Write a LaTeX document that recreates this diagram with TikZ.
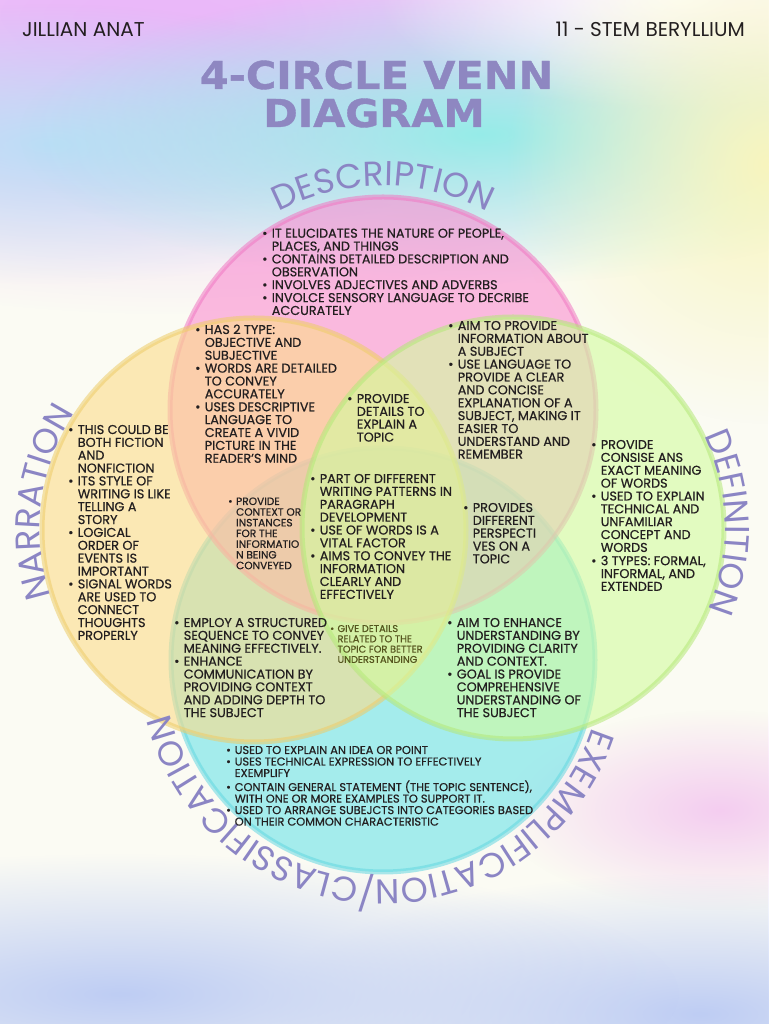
\documentclass[tikz,border=0pt]{standalone}
\usepackage{fontspec}
\usetikzlibrary{decorations.text,fadings}

\newfontfamily\notefont[FakeBold=0.6]{Poppins}
\newfontfamily\labelfont{Poppins}
\newfontfamily\titlefont[FakeStretch=1.08,FakeBold=1]{DejaVu Sans}
\newfontfamily\headfont{Poppins}

\definecolor{bgcream}{RGB}{251,251,243}
\definecolor{inkgray}{RGB}{35,31,32}
\definecolor{olivegray}{RGB}{85,85,30}
\definecolor{labelpurple}{RGB}{139,133,196}
\definecolor{titlepurple}{RGB}{142,135,193}
\definecolor{pinkfill}{RGB}{250,142,209}
\definecolor{pinkline}{RGB}{240,120,195}
\definecolor{yellowfill}{RGB}{252,220,138}
\definecolor{yellowline}{RGB}{238,204,104}
\definecolor{greenfill}{RGB}{210,252,159}
\definecolor{greenline}{RGB}{180,232,120}
\definecolor{cyanfill}{RGB}{107,227,232}
\definecolor{cyanline}{RGB}{100,215,225}
\definecolor{hazepink}{RGB}{234,184,250}
\definecolor{hazecyan}{RGB}{150,236,232}
\definecolor{hazesky}{RGB}{188,222,246}
\definecolor{hazeblue}{RGB}{190,205,244}
\definecolor{hazeyellow}{RGB}{248,245,190}
\definecolor{hazerose}{RGB}{244,205,240}

\tikzfading[name=softspot, inner color=transparent!0, outer color=transparent!100]

\newcommand{\bul}{\makebox[0.75em][l]{\textbullet}}
\newcommand{\labelsize}{\labelfont\fontsize{34.5}{34.5}\selectfont}

\begin{document}
\begin{tikzpicture}[x=1pt,y=1pt,
    setline/.style={line width=5pt, fill opacity=0.6, draw opacity=0.55},
    notes/.style={anchor=base west, inner sep=0pt, text=inkgray,
      font=\notefont\fontsize{12.8}{12.8}\selectfont},
    smallnotes/.style={notes, font=\notefont\fontsize{10.6}{10.7}\selectfont},
    tinynotes/.style={notes, text=olivegray, font=\notefont\fontsize{9.8}{10.3}\selectfont},
    widenotes/.style={notes, font=\notefont\fontsize{11.4}{11.5}\selectfont},
    circlelabel/.style={decorate, decoration={text along path, text align=center, text color=labelpurple}},
    headtext/.style={inner sep=0pt, text=inkgray, font=\headfont\fontsize{20}{20}\selectfont},
    titletext/.style={anchor=base, inner sep=0pt, text=titlepurple, font=\titlefont\bfseries\fontsize{38.4}{38.4}\selectfont}]
  \useasboundingbox (0,0) rectangle (768,1024);

  % Pastel background
  \fill[bgcream] (0,0) rectangle (768,1024);
  \fill[hazepink, path fading=softspot] (180,1000) ellipse [x radius=720pt, y radius=290pt];
  \fill[hazepink, path fading=softspot] (130,1010) ellipse [x radius=520pt, y radius=200pt];
  \fill[hazesky, path fading=softspot] (50,880) ellipse [x radius=380pt, y radius=140pt];
  \fill[hazecyan, path fading=softspot] (480,890) ellipse [x radius=460pt, y radius=150pt];
  \fill[white, path fading=softspot] (680,1024) ellipse [x radius=300pt, y radius=110pt];
  \fill[hazeyellow, path fading=softspot] (768,860) ellipse [x radius=260pt, y radius=260pt];
  \fill[hazerose, path fading=softspot] (720,214) ellipse [x radius=220pt, y radius=100pt];
  \fill[hazeblue, path fading=softspot] (700,10) ellipse [x radius=440pt, y radius=140pt];
  \fill[hazeblue, path fading=softspot] (120,30) ellipse [x radius=560pt, y radius=140pt];

  % Circle centres
  \coordinate (descC) at (383,614);
  \coordinate (narrC) at (254,494);
  \coordinate (defC) at (513,496);
  \coordinate (exemC) at (383,364);

  % The four sets
  \path[setline, fill=cyanfill, draw=cyanline] (exemC) circle [radius=212pt];
  \path[setline, fill=pinkfill, draw=pinkline] (descC) circle [radius=213pt];
  \path[setline, fill=yellowfill, draw=yellowline] (narrC) circle [radius=212pt];
  \path[setline, fill=greenfill, draw=greenline] (defC) circle [radius=211pt];

  % Curved set names
  \path[circlelabel, decoration={text={|\labelsize|DESCRIPTION}}]
    ([shift={(130:224pt)}]descC) arc [start angle=130, end angle=50, radius=224pt];
  \path[circlelabel, decoration={text={|\labelsize|NARRATION}}]
    ([shift={(210:214pt)}]narrC) arc [start angle=210, end angle=135, radius=214pt];
  \path[circlelabel, decoration={text={|\labelsize|DEFINITION}}]
    ([shift={(40:212pt)}]defC) arc [start angle=40, end angle=-37, radius=212pt];
  \path[circlelabel, decoration={text={|\labelsize|EXEMPLIFICATION/CLASSIFICATION}}]
    ([shift={(0:220pt)}]exemC) arc [start angle=0, end angle=-184, radius=220pt];

  % Header and title
  \node[headtext, anchor=base west] (author) at (22,987) {JILLIAN ANAT};
  \node[headtext, anchor=base east] (section) at (745,987) {11 - STEM BERYLLIUM};
  \node[titletext] (titleA) at (376.5,935) {4-CIRCLE VENN};
  \node[titletext] (titleB) at (374,897) {DIAGRAM};

  % Description only
  \node[notes] (descnote) at (262,786.3) {\begin{tabular}[t]{@{}l@{}l@{}}
    \bul & IT ELUCIDATES THE NATURE OF PEOPLE,\\
         & PLACES, AND THINGS\\
    \bul & CONTAINS DETAILED DESCRIPTION AND\\
         & OBSERVATION\\
    \bul & INVOLVES ADJECTIVES AND ADVERBS\\
    \bul & INVOLCE SENSORY LANGUAGE TO DECRIBE\\
         & ACCURATELY
  \end{tabular}};

  % Description and narration
  \node[notes] (descnarrnote) at (195,690) {\begin{tabular}[t]{@{}l@{}l@{}}
    \bul & HAS 2 TYPE:\\
         & OBJECTIVE AND\\
         & SUBJECTIVE\\
    \bul & WORDS ARE DETAILED\\
         & TO CONVEY\\
         & ACCURATELY\\
    \bul & USES DESCRIPTIVE\\
         & LANGUAGE TO\\
         & CREATE A VIVID\\
         & PICTURE IN THE\\
         & READER’S MIND
  \end{tabular}};

  % Description and definition
  \node[notes] (descdefnote) at (448,694) {\begin{tabular}[t]{@{}l@{}l@{}}
    \bul & AIM TO PROVIDE\\
         & INFORMATION ABOUT\\
         & A SUBJECT\\
    \bul & USE LANGUAGE TO\\
         & PROVIDE A CLEAR\\
         & AND CONCISE\\
         & EXPLANATION OF A\\
         & SUBJECT, MAKING IT\\
         & EASIER TO\\
         & UNDERSTAND AND\\
         & REMEMBER
  \end{tabular}};

  % Description, narration and definition
  \node[notes] (topmidnote) at (347,621) {\begin{tabular}[t]{@{}l@{}l@{}}
    \bul & PROVIDE\\
         & DETAILS TO\\
         & EXPLAIN A\\
         & TOPIC
  \end{tabular}};

  % Narration only
  \node[notes] (narrnote) at (68,590) {\begin{tabular}[t]{@{}l@{}l@{}}
    \bul & THIS COULD BE\\
         & BOTH FICTION\\
         & AND\\
         & NONFICTION\\
    \bul & ITS STYLE OF\\
         & WRITING IS LIKE\\
         & TELLING A\\
         & STORY\\
    \bul & LOGICAL\\
         & ORDER OF\\
         & EVENTS IS\\
         & IMPORTANT\\
    \bul & SIGNAL WORDS\\
         & ARE USED TO\\
         & CONNECT\\
         & THOUGHTS\\
         & PROPERLY
  \end{tabular}};

  % Definition only
  \node[notes] (defnote) at (591,575) {\begin{tabular}[t]{@{}l@{}l@{}}
    \bul & PROVIDE\\
         & CONSISE ANS\\
         & EXACT MEANING\\
         & OF WORDS\\
    \bul & USED TO EXPLAIN\\
         & TECHNICAL AND\\
         & UNFAMILIAR\\
         & CONCEPT AND\\
         & WORDS\\
    \bul & 3 TYPES: FORMAL,\\
         & INFORMAL, AND\\
         & EXTENDED
  \end{tabular}};

  % Description, narration and exemplification
  \node[smallnotes] (leftmidnote) at (228,519) {\begin{tabular}[t]{@{}l@{}l@{}}
    \bul & PROVIDE\\
         & CONTEXT OR\\
         & INSTANCES\\
         & FOR THE\\
         & INFORMATIO\\
         & N BEING\\
         & CONVEYED
  \end{tabular}};

  % All four
  \node[notes] (centernote) at (310,541) {\begin{tabular}[t]{@{}l@{}l@{}}
    \bul & PART OF DIFFERENT\\
         & WRITING PATTERNS IN\\
         & PARAGRAPH\\
         & DEVELOPMENT\\
    \bul & USE OF WORDS IS A\\
         & VITAL FACTOR\\
    \bul & AIMS TO CONVEY THE\\
         & INFORMATION\\
         & CLEARLY AND\\
         & EFFECTIVELY
  \end{tabular}};

  % Description, definition and exemplification
  \node[notes] (rightmidnote) at (463,512) {\begin{tabular}[t]{@{}l@{}l@{}}
    \bul & PROVIDES\\
         & DIFFERENT\\
         & PERSPECTI\\
         & VES ON A\\
         & TOPIC
  \end{tabular}};

  % Narration and exemplification
  \node[notes] (narrexemnote) at (174,397) {\begin{tabular}[t]{@{}l@{}l@{}}
    \bul & EMPLOY A STRUCTURED\\
         & SEQUENCE TO CONVEY\\
         & MEANING EFFECTIVELY.\\
    \bul & ENHANCE\\
         & COMMUNICATION BY\\
         & PROVIDING CONTEXT\\
         & AND ADDING DEPTH TO\\
         & THE SUBJECT
  \end{tabular}};

  % Narration, definition and exemplification
  \node[tinynotes] (lowmidnote) at (330,392) {\begin{tabular}[t]{@{}l@{}l@{}}
    \bul & GIVE DETAILS\\
         & RELATED TO THE\\
         & TOPIC FOR BETTER\\
         & UNDERSTANDING
  \end{tabular}};

  % Definition and exemplification
  \node[notes] (defexemnote) at (447,397) {\begin{tabular}[t]{@{}l@{}l@{}}
    \bul & AIM TO ENHANCE\\
         & UNDERSTANDING BY\\
         & PROVIDING CLARITY\\
         & AND CONTEXT.\\
    \bul & GOAL IS PROVIDE\\
         & COMPREHENSIVE\\
         & UNDERSTANDING OF\\
         & THE SUBJECT
  \end{tabular}};

  % Exemplification/classification only
  \node[widenotes] (exemnote) at (226,270) {\begin{tabular}[t]{@{}l@{}l@{}}
    \bul & USED TO EXPLAIN AN IDEA OR POINT\\
    \bul & USES TECHNICAL EXPRESSION TO EFFECTIVELY\\
         & EXEMPLIFY\\
    \bul & CONTAIN GENERAL STATEMENT (THE TOPIC SENTENCE),\\
         & WITH ONE OR MORE EXAMPLES TO SUPPORT IT.\\
    \bul & USED TO ARRANGE SUBEJCTS INTO CATEGORIES BASED\\
         & ON THEIR COMMON CHARACTERISTIC
  \end{tabular}};
\end{tikzpicture}
\end{document}
